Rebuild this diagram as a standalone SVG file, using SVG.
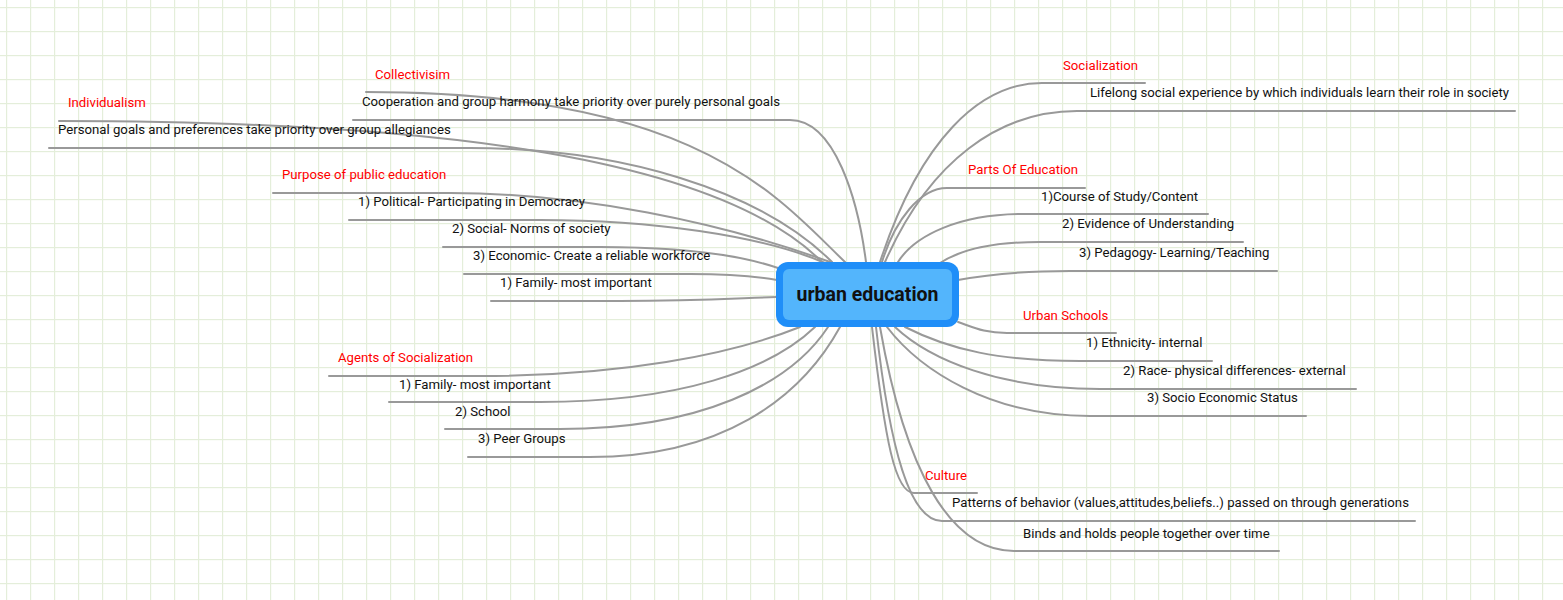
<svg xmlns="http://www.w3.org/2000/svg" width="1563" height="600" viewBox="0 0 1563 600">
<defs>
<pattern id="grid" x="6" y="7" width="24" height="24" patternUnits="userSpaceOnUse">
<rect x="0" y="0" width="24" height="1.2" fill="#e4eeda"/>
<rect x="0" y="0" width="1.2" height="24" fill="#e4eeda"/>
</pattern>
<style>
.c{fill:none;stroke:#999;stroke-width:2;stroke-linecap:round}
.t{font-family:Roboto,"Liberation Sans",sans-serif;font-size:13.2px;fill:#111}
.r{font-family:Roboto,"Liberation Sans",sans-serif;font-size:13.2px;fill:#f00}
.m{font-family:Roboto,"Liberation Sans",sans-serif;font-size:19.5px;font-weight:bold;fill:#111}
</style>
</defs>
<rect width="1563" height="600" fill="#fff"/>
<rect width="1563" height="600" fill="url(#grid)"/>
<g id="connectors">
<path class="c" d="M366,92 C700,92 780,200 845,262"/>
<path class="c" d="M353,120 L790,120 C835,120 858,200 866,262"/>
<path class="c" d="M59,121 C450,121 720,160 822,262"/>
<path class="c" d="M49,148 L470,148 C620,148 760,190 832,262"/>
<path class="c" d="M273,193 L450,193 C580,193 720,222 830,262"/>
<path class="c" d="M349,220 L540,220 C650,220 760,235 825,263"/>
<path class="c" d="M443,247 L600,247 C680,247 740,255 778,268"/>
<path class="c" d="M464,274 L690,274 C730,274 760,277 777,280"/>
<path class="c" d="M491,301 L620,301 C700,301 740,298 776,297"/>
<path class="c" d="M329,376 L480,376 C620,376 730,355 800,327"/>
<path class="c" d="M389,402 L540,402 C680,402 770,370 815,327"/>
<path class="c" d="M445,429 L560,429 C700,429 790,385 828,327"/>
<path class="c" d="M468,457 L590,457 C720,457 800,400 840,327"/>
<path class="c" d="M1145,83 L1042,83 C980,83 920,140 880,262"/>
<path class="c" d="M1515,111 L1077,111 C1000,111 930,160 885,262"/>
<path class="c" d="M1085,188 L947,188 C920,188 895,220 882,262"/>
<path class="c" d="M1208,214 L1023,214 C960,214 915,235 898,262"/>
<path class="c" d="M1243,242 L1040,242 C990,242 960,250 940,263"/>
<path class="c" d="M1277,271 L1070,271 C1020,271 985,275 958,280"/>
<path class="c" d="M1116,333 L1007,333 C985,333 975,328 958,322"/>
<path class="c" d="M1212,361 L1080,361 C1000,361 950,350 905,327"/>
<path class="c" d="M1356,389 L1100,389 C1000,389 930,360 895,327"/>
<path class="c" d="M1306,416 L1090,416 C990,416 920,370 887,327"/>
<path class="c" d="M977,493 L914,493 C895,493 885,440 872,327"/>
<path class="c" d="M1415,521 L942,521 C910,521 890,450 876,327"/>
<path class="c" d="M1279,551 L1014,551 C950,551 905,470 880,327"/>
</g>
<g id="center">
<rect x="776" y="262" width="183" height="65" rx="12" fill="#1f8ef8"/>
<rect x="783" y="269" width="169" height="51" rx="6" fill="#53b5fc"/>
<text class="m" x="867.5" y="301" text-anchor="middle">urban education</text>
</g>
<g id="collectivisim"><text class="r" x="375" y="79">Collectivisim</text></g>
<g id="cooperation"><text class="t" x="362" y="106">Cooperation and group harmony take priority over purely personal goals</text></g>
<g id="individualism"><text class="r" x="68" y="107">Individualism</text></g>
<g id="personal"><text class="t" x="58" y="134">Personal goals and preferences take priority over group allegiances</text></g>
<g id="purpose"><text class="r" x="282" y="179">Purpose of public education</text></g>
<g id="political"><text class="t" x="358" y="206">1) Political- Participating in Democracy</text></g>
<g id="social"><text class="t" x="452" y="233">2) Social- Norms of society</text></g>
<g id="economic"><text class="t" x="473" y="260">3) Economic- Create a reliable workforce</text></g>
<g id="family1"><text class="t" x="500" y="287">1) Family- most important</text></g>
<g id="agents"><text class="r" x="338" y="362">Agents of Socialization</text></g>
<g id="family2"><text class="t" x="399" y="389">1) Family- most important</text></g>
<g id="school"><text class="t" x="455" y="416">2) School</text></g>
<g id="peer"><text class="t" x="478" y="443">3) Peer Groups</text></g>
<g id="socialization"><text class="r" x="1063" y="70">Socialization</text></g>
<g id="lifelong"><text class="t" x="1090" y="97">Lifelong social experience by which individuals learn their role in society</text></g>
<g id="parts"><text class="r" x="968" y="174">Parts Of Education</text></g>
<g id="course"><text class="t" x="1041" y="201">1)Course of Study/Content</text></g>
<g id="evidence"><text class="t" x="1062" y="228">2) Evidence of Understanding</text></g>
<g id="pedagogy"><text class="t" x="1079" y="257">3) Pedagogy- Learning/Teaching</text></g>
<g id="urbanschools"><text class="r" x="1023" y="320">Urban Schools</text></g>
<g id="ethnicity"><text class="t" x="1086" y="347">1) Ethnicity- internal</text></g>
<g id="race"><text class="t" x="1123" y="375">2) Race- physical differences- external</text></g>
<g id="socio"><text class="t" x="1147" y="402">3) Socio Economic Status</text></g>
<g id="culture"><text class="r" x="925" y="480">Culture</text></g>
<g id="patterns"><text class="t" x="952" y="507">Patterns of behavior (values,attitudes,beliefs..) passed on through generations</text></g>
<g id="binds"><text class="t" x="1023" y="538">Binds and holds people together over time</text></g>
</svg>
